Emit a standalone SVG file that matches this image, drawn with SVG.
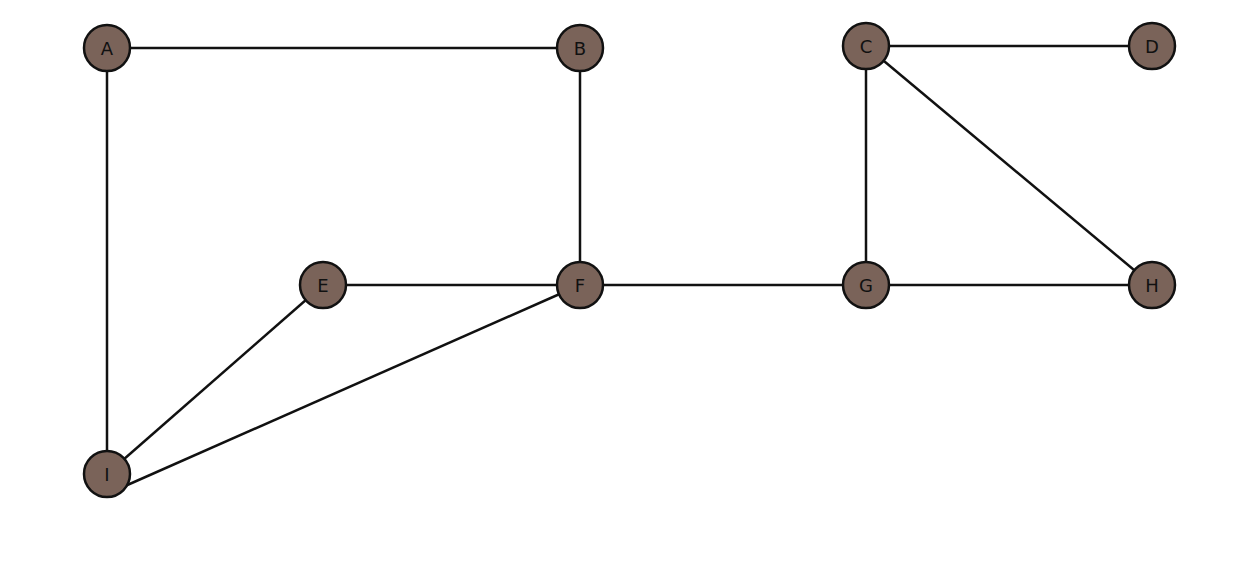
<svg xmlns="http://www.w3.org/2000/svg" width="1242" height="588" viewBox="0 0 1242 588">
<style>
.n{fill:#7a6359;stroke:#111;stroke-width:2.5}
.t{font-family:"DejaVu Sans",sans-serif;font-size:18px;fill:#111;text-anchor:middle;dominant-baseline:central}
#edges line{stroke:#111;stroke-width:2.5}
</style>
<rect width="1242" height="588" fill="#fff"/>
<g id="edges">
<line x1="107" y1="48" x2="580" y2="48"/>
<line x1="107" y1="48" x2="107" y2="474"/>
<line x1="580" y1="48" x2="580" y2="285"/>
<line x1="866" y1="46" x2="1152" y2="46"/>
<line x1="866" y1="46" x2="866" y2="285"/>
<line x1="866" y1="46" x2="1152" y2="285"/>
<line x1="323" y1="285" x2="580" y2="285"/>
<line x1="580" y1="285" x2="866" y2="285"/>
<line x1="866" y1="285" x2="1152" y2="285"/>
<line x1="323" y1="285" x2="107" y2="474"/>
<line x1="580" y1="285" x2="107" y2="494"/>
</g>
<g id="A"><circle class="n" cx="107" cy="48" r="23"/><text class="t" x="107" y="48">A</text></g>
<g id="B"><circle class="n" cx="580" cy="48" r="23"/><text class="t" x="580" y="48">B</text></g>
<g id="C"><circle class="n" cx="866" cy="46" r="23"/><text class="t" x="866" y="46">C</text></g>
<g id="D"><circle class="n" cx="1152" cy="46" r="23"/><text class="t" x="1152" y="46">D</text></g>
<g id="E"><circle class="n" cx="323" cy="285" r="23"/><text class="t" x="323" y="285">E</text></g>
<g id="F"><circle class="n" cx="580" cy="285" r="23"/><text class="t" x="580" y="285">F</text></g>
<g id="G"><circle class="n" cx="866" cy="285" r="23"/><text class="t" x="866" y="285">G</text></g>
<g id="H"><circle class="n" cx="1152" cy="285" r="23"/><text class="t" x="1152" y="285">H</text></g>
<g id="I"><circle class="n" cx="107" cy="474" r="23"/><text class="t" x="107" y="474">I</text></g>
</svg>
